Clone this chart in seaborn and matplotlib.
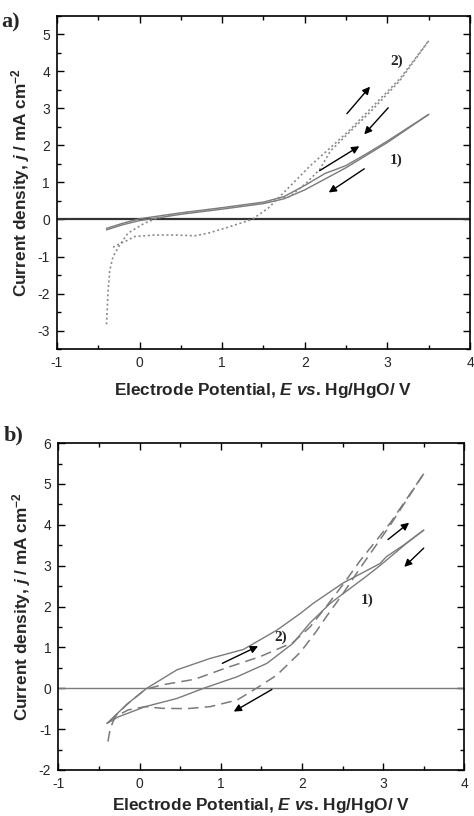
import numpy as np
import matplotlib
matplotlib.use("Agg")
import matplotlib.pyplot as plt
from matplotlib.ticker import MultipleLocator
import seaborn as sns

# ---- panel a) data (read off the picture) ----
a_sol_fwd_x = [-0.40, -0.20, 0.00, 0.50, 1.00, 1.50, 1.75, 2.00, 2.25, 2.35, 2.50, 2.75, 3.00, 3.25, 3.50]
a_sol_fwd_y = [-0.24, -0.10, 0.02, 0.18, 0.32, 0.47, 0.62, 0.92, 1.25, 1.33, 1.46, 1.78, 2.12, 2.48, 2.84]
a_sol_rev_x = [3.50, 3.00, 2.50, 2.25, 2.00, 1.75, 1.50, 1.00, 0.50, 0.00, -0.20, -0.40]
a_sol_rev_y = [2.84, 2.08, 1.40, 1.10, 0.80, 0.56, 0.43, 0.28, 0.14, -0.03, -0.14, -0.28]

a_dot_fwd_x = [-0.32, -0.26, -0.18, -0.06, 0.18, 0.43, 0.67, 0.83, 1.07, 1.36, 1.56, 1.80, 2.06, 2.31, 2.55, 2.79, 3.15, 3.50]
a_dot_fwd_y = [-0.75, -0.68, -0.60, -0.46, -0.42, -0.42, -0.44, -0.37, -0.21, 0.00, 0.31, 0.85, 1.44, 1.94, 2.43, 2.98, 3.80, 4.83]
a_dot_rev_x = [3.50, 3.15, 2.79, 2.55, 2.31, 2.18, 2.02, 1.82, 1.50, 1.00, 0.50, 0.22, 0.06, -0.14, -0.24, -0.32, -0.36, -0.38, -0.40]
a_dot_rev_y = [4.83, 3.75, 2.90, 2.38, 1.85, 1.35, 0.99, 0.62, 0.45, 0.30, 0.17, 0.04, -0.10, -0.37, -0.69, -1.00, -1.37, -1.91, -2.86]

# ---- panel b) data ----
b_sol_fwd_x = [-0.40, -0.16, 0.09, 0.46, 0.87, 1.28, 1.69, 1.98, 2.14, 2.51, 2.96, 3.04, 3.25, 3.50]
b_sol_fwd_y = [-0.86, -0.40, 0.00, 0.45, 0.73, 0.95, 1.42, 1.83, 2.08, 2.58, 3.05, 3.22, 3.50, 3.87]
b_sol_rev_x = [3.50, 3.29, 2.96, 2.80, 2.35, 2.10, 1.89, 1.57, 1.20, 0.79, 0.46, 0.07, -0.26, -0.40]
b_sol_rev_y = [3.87, 3.55, 3.00, 2.75, 2.08, 1.60, 1.10, 0.61, 0.28, 0.00, -0.25, -0.45, -0.70, -0.86]

b_dash_fwd_x = [-0.36, -0.30, -0.14, 0.07, 0.27, 0.68, 1.07, 1.48, 1.89, 2.10, 2.30, 2.51, 2.72, 3.09, 3.50]
b_dash_fwd_y = [-0.80, -0.68, -0.37, -0.03, 0.08, 0.22, 0.50, 0.77, 1.12, 1.50, 2.00, 2.55, 3.13, 4.05, 5.25]
b_dash_rev_x = [3.50, 3.09, 2.72, 2.50, 2.30, 2.18, 1.98, 1.69, 1.44, 1.20, 0.87, 0.58, 0.27, 0.07, -0.14, -0.30, -0.36, -0.40]
b_dash_rev_y = [5.25, 4.00, 2.95, 2.30, 1.75, 1.40, 0.88, 0.32, 0.00, -0.29, -0.45, -0.50, -0.49, -0.45, -0.53, -0.70, -0.98, -1.43]

# arrows: (x_start, y_start, x_end, y_end)
a_arrows = [(2.51, 2.86, 2.79, 3.59), (3.01, 3.02, 2.72, 2.30),
            (2.18, 1.32, 2.66, 1.98), (2.72, 1.37, 2.29, 0.73)]
b_arrows = [(3.06, 3.64, 3.32, 4.05), (3.50, 3.43, 3.26, 2.97),
            (1.02, 0.61, 1.46, 1.03), (1.63, -0.03, 1.16, -0.57)]

# curve labels: (text, x, y)
a_labels = [("2)", 3.11, 4.29), ("1)", 3.10, 1.59)]
b_labels = [("1)", 2.80, 2.15), ("2)", 1.74, 1.24)]

sns.set_style("ticks")
plt.rcParams['font.family'] = ['Liberation Sans', 'DejaVu Sans']
plt.rcParams['axes.unicode_minus'] = False
plt.rcParams['mathtext.fontset'] = 'custom'
plt.rcParams['mathtext.it'] = 'Liberation Sans:italic:bold'
plt.rcParams['mathtext.rm'] = 'Liberation Sans:bold'
plt.rcParams['mathtext.bf'] = 'Liberation Sans:bold'

fig = plt.figure(figsize=(4.74, 8.16), dpi=100)
ax_a = fig.add_axes([0.120, 0.5723, 0.8716, 0.4081])
ax_b = fig.add_axes([0.123, 0.0564, 0.8566, 0.4006])

grey = '#7a7a7a'


def style_axis(ax, ylim, zero_color, zero_lw, xpad):
    ax.axhline(0, color=zero_color, lw=zero_lw, zorder=1)
    ax.set_xlim(-1, 4)
    ax.set_ylim(*ylim)
    ax.xaxis.set_major_locator(MultipleLocator(1))
    ax.xaxis.set_minor_locator(MultipleLocator(0.5))
    ax.yaxis.set_major_locator(MultipleLocator(1))
    ax.yaxis.set_minor_locator(MultipleLocator(0.5))
    ax.tick_params(which='both', direction='in', top=True, right=True,
                   width=1.0, color='black')
    ax.tick_params(which='major', length=5, labelsize=10, pad=5)
    ax.tick_params(which='minor', length=3)
    for sp in ax.spines.values():
        sp.set_visible(True)
        sp.set_linewidth(1.2)
        sp.set_color('black')
    ax.set_xlabel(r'Electrode Potential, $\mathit{E}$ $\mathit{vs}$. Hg/HgO/ V',
                  fontsize=12.4, fontweight='bold', labelpad=xpad)
    ax.set_ylabel(r'Current density, $\mathit{j}$ / mA cm$^{\mathrm{-2}}$',
                  fontsize=12.4, fontweight='bold', labelpad=4)


def draw_arrows(ax, arrows):
    for x0, y0, x1, y1 in arrows:
        ax.annotate('', xy=(x1, y1), xytext=(x0, y0),
                    arrowprops=dict(arrowstyle='-|>', color='black', lw=1.0,
                                    mutation_scale=11, shrinkA=0, shrinkB=0))


def draw_labels(ax, labels):
    for txt, x, y in labels:
        ax.text(x, y, txt, family='Liberation Serif', fontweight='bold',
                fontsize=11, ha='center', va='center')


# panel a
style_axis(ax_a, (-3.5, 5.5), '#333333', 1.6, 8)
for xs, ys in [(a_sol_fwd_x, a_sol_fwd_y), (a_sol_rev_x, a_sol_rev_y)]:
    sns.lineplot(x=xs, y=ys, sort=False, estimator=None, ax=ax_a,
                 color=grey, lw=1.0)
for xs, ys in [(a_dot_fwd_x, a_dot_fwd_y), (a_dot_rev_x, a_dot_rev_y)]:
    sns.lineplot(x=xs, y=ys, sort=False, estimator=None, ax=ax_a,
                 color='#8a8a8a', lw=1.2, linestyle=(0, (1.2, 1.6)))
draw_arrows(ax_a, a_arrows)
draw_labels(ax_a, a_labels)

# panel b
style_axis(ax_b, (-2, 6), grey, 1.0, 4)
for xs, ys in [(b_sol_fwd_x, b_sol_fwd_y), (b_sol_rev_x, b_sol_rev_y)]:
    sns.lineplot(x=xs, y=ys, sort=False, estimator=None, ax=ax_b,
                 color=grey, lw=1.0)
for xs, ys in [(b_dash_fwd_x, b_dash_fwd_y), (b_dash_rev_x, b_dash_rev_y)]:
    sns.lineplot(x=xs, y=ys, sort=False, estimator=None, ax=ax_b,
                 color=grey, lw=1.1, linestyle=(0, (7, 4)))
draw_arrows(ax_b, b_arrows)
draw_labels(ax_b, b_labels)

fig.text(0.002, 0.985, 'a)', family='Liberation Serif', fontweight='bold',
         fontsize=16, ha='left', va='top')
fig.text(0.008, 0.478, 'b)', family='Liberation Serif', fontweight='bold',
         fontsize=16, ha='left', va='top')

fig.savefig('out.png', dpi=100)
